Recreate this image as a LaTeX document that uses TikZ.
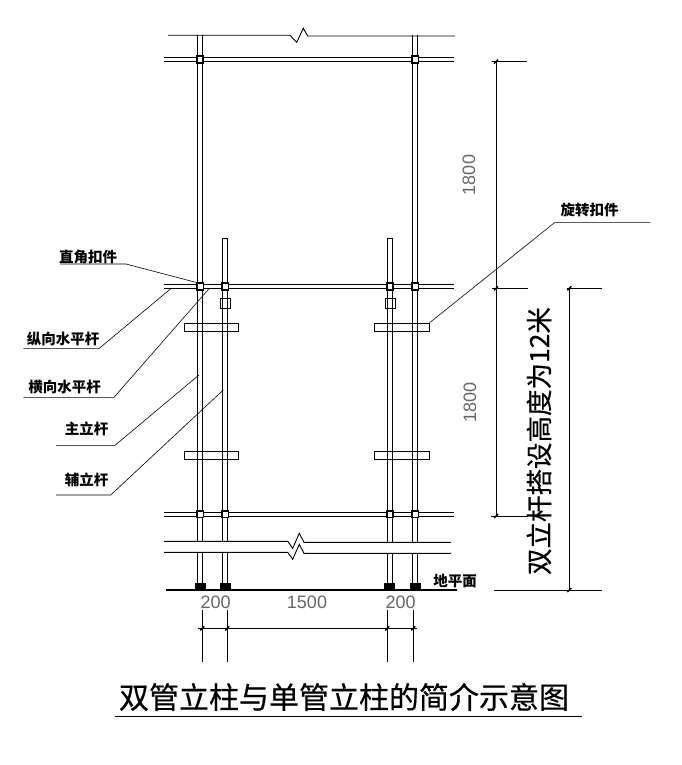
\documentclass[tikz,border=0pt]{standalone}
\usepackage{fontspec}
\setmainfont{Noto Sans CJK SC}
\newfontfamily\dimfont{Liberation Sans}
\newfontfamily\titlefont[FakeBold=0.5]{Noto Sans CJK SC}
\usepackage{tikz}
\tikzset{
	pipe/.style={line width=0.9pt},
	thin leader/.style={line width=0.6pt},
	clamp/.style={draw,fill=white,line width=1.6pt,minimum size=6.5pt,inner sep=0pt},
	sleeve/.style={draw,line width=0.5pt,minimum width=10pt,minimum height=10pt,inner sep=0pt},
	plate/.style={draw,line width=0.6pt,minimum width=54.5pt,minimum height=8pt,inner sep=0pt},
	base/.style={fill=black,minimum width=11pt,minimum height=6pt,inner sep=0pt},
	label/.style={font=\fontsize{14.5}{15}\selectfont\bfseries,inner sep=0pt},
	dimtext/.style={font=\fontsize{18}{19}\selectfont\dimfont,text=black!60,inner sep=0pt},
}
\begin{document}
\begin{tikzpicture}[x=1pt,y=-1pt]
	\useasboundingbox (0,0) rectangle (681,765);

	\foreach \x in {200,415.3} {
		\draw[pipe] (\x-2.5,35.5) -- (\x-2.5,541.5) (\x+2.5,35.5) -- (\x+2.5,541.5);
	}
	\foreach \x in {225.3,390} {
		\draw[pipe] (\x-2.5,541.5) -- (\x-2.5,238) -- (\x+2.5,238) -- (\x+2.5,541.5);
	}
	\foreach \x in {200,225.3,390,415.3} {
		\draw[pipe] (\x-2.5,552.5) -- (\x-2.5,586) (\x+2.5,552.5) -- (\x+2.5,586);
	}

	\foreach \y in {59.3,286.5,514.3} {
		\draw[pipe] (164,\y-2.2) -- (454,\y-2.2) (164,\y+2.2) -- (454,\y+2.2);
	}
	\draw[pipe] (168,35.3) -- (290,35.3) -- (296.7,42.3) -- (303.3,28.3) -- (307.7,36) -- (455,36);
	\foreach \y in {541.3,552.3} {
		\draw[pipe] (164,\y) -- (287.7,\y) -- (292.7,\y+7) -- (299.3,\y-8) -- (304,\y+1) -- (451,\y+1);
	}
	\draw[line width=2.6pt] (166,590) -- (457,590);

	\node[clamp] (clampA) at (200,59.5) {}; \node[clamp] (clampB) at (415.3,59.5) {};
	\node[clamp] (clampC) at (200.3,286.5) {}; \node[clamp] (clampD) at (225.3,286.5) {};
	\node[clamp] (clampE) at (390,286.5) {}; \node[clamp] (clampF) at (415.3,286.5) {};
	\node[clamp] (clampG) at (200.3,514.3) {}; \node[clamp] (clampH) at (225.3,514.3) {};
	\node[clamp] (clampI) at (390,514.3) {}; \node[clamp] (clampJ) at (415.3,514.3) {};

	\node[sleeve] (sleeveL) at (225.3,303) {}; \node[sleeve] (sleeveR) at (390,303) {};
	\node[plate] (plateA) at (211.4,327) {}; \node[plate] (plateB) at (402,327) {};
	\node[plate] (plateC) at (211.4,455) {}; \node[plate] (plateD) at (402,455) {};
	\node[base] (baseA) at (200.5,586) {}; \node[base] (baseB) at (225.5,586) {};
	\node[base] (baseC) at (389.5,586) {}; \node[base] (baseD) at (415,586) {};

	\node[label] (zhijiao) at (88,257) {直角扣件};
	\node[label] (zongxiang) at (63,339) {纵向水平杆};
	\node[label] (hengxiang) at (64.5,387) {横向水平杆};
	\node[label] (zhuligan) at (86.7,429) {主立杆};
	\node[label] (fuligan) at (86.7,480) {辅立杆};
	\node[label] (xuanzhuan) at (589.7,210) {旋转扣件};
	\node[label] (diping) at (455,581) {地平面};

	\coordinate (zhijiaoA) at (60,264); \coordinate (zhijiaoB) at (126,264);
	\coordinate (zongA) at (23.3,348.3); \coordinate (zongB) at (99.3,348.3); \coordinate (zongC) at (170.7,288.7);
	\coordinate (hengA) at (23.3,397.3); \coordinate (hengB) at (114,397.3); \coordinate (hengC) at (209,288.7);
	\coordinate (zhuA) at (56,445.3); \coordinate (zhuB) at (115,445.3); \coordinate (zhuC) at (199,375);
	\coordinate (fuA) at (56,495); \coordinate (fuB) at (110.7,495); \coordinate (fuC) at (223.3,390);
	\coordinate (xuanA) at (650,222.3); \coordinate (xuanB) at (555,222.3);

	\draw[thin leader] (zhijiaoA) -- (zhijiaoB) -- (clampC.north west);
	\draw[thin leader] (zongA) -- (zongB) -- (zongC);
	\draw[thin leader] (hengA) -- (hengB) -- (hengC);
	\draw[thin leader] (zhuA) -- (zhuB) -- (zhuC);
	\draw[thin leader] (fuA) -- (fuB) -- (fuC);
	\draw[thin leader] (xuanA) -- (xuanB) -- (plateB.north east);

	\node[dimtext] (widthA) at (215.7,602) {200};
	\node[dimtext] (widthB) at (307,602) {1500};
	\node[dimtext] (widthC) at (400.7,602) {200};
	\node[dimtext,rotate=90] (riseA) at (469,175) {1800};
	\node[dimtext,rotate=90] (riseB) at (470,402) {1800};

	\foreach \x in {202.3,227.3,387.3,413.3} {
		\draw[pipe] (\x,610) -- (\x,661.5);
		\draw[line width=1.4pt] (\x-2,630.3) -- (\x+2,626.3);
	}
	\draw[pipe] (198,628.3) -- (416.7,628.3);

	\draw[pipe] (491.7,61.7) -- (526.7,61.7);
	\draw[pipe] (491.7,288.3) -- (528,288.3);
	\draw[pipe] (491,516) -- (528,516);
	\draw[pipe] (496,61.7) -- (496,516);
	\draw[pipe] (566.7,288.3) -- (601.7,288.3);
	\draw[pipe] (494.3,590) -- (601.7,590);
	\draw[pipe] (569.3,288.3) -- (569.3,590);
	\foreach \y in {61.7,288.3,516} {
		\draw[line width=1.4pt] (494,\y+2) -- (498,\y-2);
	}
	\foreach \y in {288.3,590} {
		\draw[line width=1.4pt] (567.3,\y+2) -- (571.3,\y-2);
	}

	\node[font=\fontsize{26.5}{27}\selectfont\titlefont,rotate=90,inner sep=0pt] (height) at (539,441) {双立杆搭设高度为12米};

	\node[font=\fontsize{30}{31}\selectfont\titlefont,inner sep=0pt] (title) at (344,697) {双管立柱与单管立柱的简介示意图};
	\coordinate (titleA) at (115,716); \coordinate (titleB) at (581.7,716);
	\draw[pipe] (titleA) -- (titleB);
\end{tikzpicture}
\end{document}
